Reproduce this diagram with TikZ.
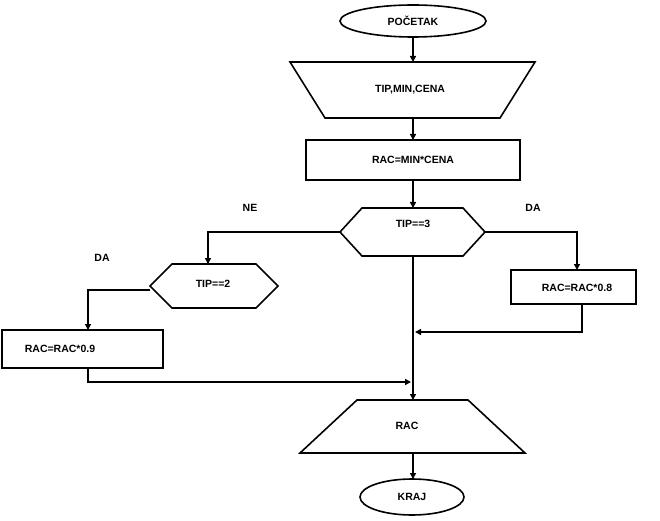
\documentclass[tikz,border=0pt]{standalone}
\usepackage{fontspec}
\setmainfont{Liberation Sans}
\usetikzlibrary{arrows.meta}
\begin{document}
\begin{tikzpicture}[x=1pt,y=-1pt,line width=1.6pt,
 txt/.style={font=\fontsize{10.5}{12}\selectfont\bfseries},
 arr/.style={-{Triangle[length=6pt,width=6pt]}},
 shp/.style={draw,fill=white}]
\useasboundingbox (0,0) rectangle (660,521);
% start
\draw[shp] (413,21) ellipse (73 and 16);
\node[txt] (start) at (413,21) {POČETAK};
% input
\draw[shp] (290,62) -- (535,62) -- (500,118) -- (325,118) -- cycle;
\node[txt] (inp) at (410,90) {TIP,MIN,CENA};
% rac
\draw[shp] (306,140) rectangle (520,180);
\node[txt] (r1) at (413,160) {RAC=MIN*CENA};
% hex tip3
\draw[shp] (340,232) -- (362,208) -- (463,208) -- (485,232) -- (463,256) -- (362,256) -- cycle;
\node[txt] (h3) at (413,224) {TIP==3};
% hex tip2
\draw[shp] (150,286) -- (172,264) -- (256,264) -- (278,286) -- (256,308) -- (172,308) -- cycle;
\node[txt] (h2) at (213,284) {TIP==2};
% rect 0.9
\draw[shp] (2,330) rectangle (163,368);
\node[txt] (r9) at (60,349) {RAC=RAC*0.9};
% rect 0.8
\draw[shp] (511,270) rectangle (636,304);
\node[txt] (r8) at (577,288) {RAC=RAC*0.8};
% output
\draw[shp] (357,400) -- (468,400) -- (525,453) -- (300,453) -- cycle;
\node[txt] (out) at (407,426) {RAC};
% end
\draw[shp] (412,497) ellipse (52 and 18);
\node[txt] (end) at (412,497) {KRAJ};
% labels
\node[txt] at (250,208) {NE};
\node[txt] at (533,208) {DA};
\node[txt] at (102,258) {DA};
% connectors
\draw[arr] (413,37) -- (413,62);
\draw[arr] (413,118) -- (413,140);
\draw[arr] (413,180) -- (413,208);
\draw[arr] (340,232) -- (208,232) -- (208,264);
\draw[arr] (150,290) -- (88,290) -- (88,330);
\draw[arr] (88,368) -- (88,382) -- (411,382);
\draw[arr] (485,232) -- (577,232) -- (577,270);
\draw[arr] (582,304) -- (582,332) -- (415,332);
\draw[arr] (413,256) -- (413,400);
\draw[arr] (413,453) -- (413,479);
\end{tikzpicture}
\end{document}
